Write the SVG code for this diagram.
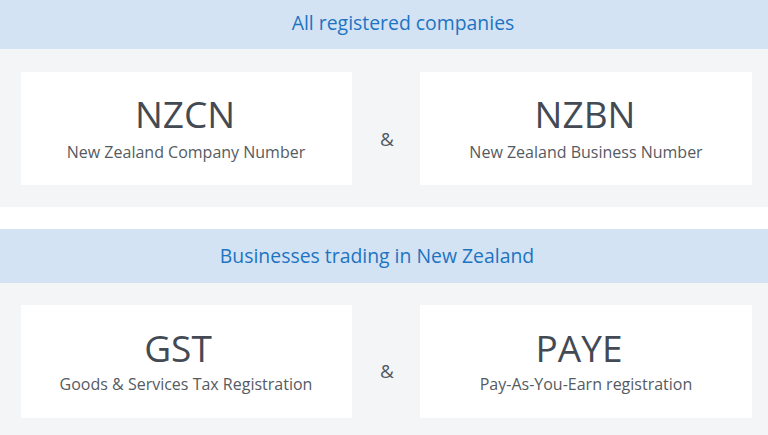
<svg xmlns="http://www.w3.org/2000/svg" width="768" height="435" viewBox="0 0 768 435">
<style>
.band{fill:#d3e3f3}
.panel{fill:#f4f5f7}
.box{fill:#ffffff}
.title{font-family:"Open Sans","Noto Sans",sans-serif;font-size:19.4px;fill:#1d74c2;text-anchor:middle}
.big{font-family:"Open Sans","Noto Sans",sans-serif;font-size:37px;fill:#434a53;text-anchor:middle}
.sub{font-family:"Open Sans","Noto Sans",sans-serif;font-size:16px;fill:#555b62;text-anchor:middle}
.amp{font-family:"Open Sans","Noto Sans",sans-serif;font-size:19px;fill:#555b62;text-anchor:middle}
</style>
<rect width="768" height="435" fill="#ffffff"/>
<g id="band1"><rect class="band" x="0" y="0" width="768" height="49"/><text class="title" x="403" y="30">All registered companies</text></g>
<rect class="panel" x="0" y="49" width="768" height="158"/>
<g id="nzcn"><rect class="box" x="21" y="72" width="331" height="113"/><text class="big" x="185" y="128">NZCN</text><text class="sub" x="186" y="158">New Zealand Company Number</text></g>
<g id="amp1"><text class="amp" x="387" y="146">&amp;</text></g>
<g id="nzbn"><rect class="box" x="420" y="72" width="332" height="113"/><text class="big" x="585" y="128">NZBN</text><text class="sub" x="586" y="158">New Zealand Business Number</text></g>
<g id="band2"><rect class="band" x="0" y="229" width="768" height="54"/><text class="title" x="377" y="263">Businesses trading in New Zealand</text></g>
<rect class="panel" x="0" y="283" width="768" height="152"/>
<g id="gst"><rect class="box" x="21" y="305" width="331" height="113"/><text class="big" x="178" y="362">GST</text><text class="sub" x="186" y="390">Goods &amp; Services Tax Registration</text></g>
<g id="amp2"><text class="amp" x="387" y="378">&amp;</text></g>
<g id="paye"><rect class="box" x="420" y="305" width="332" height="113"/><text class="big" x="579" y="362">PAYE</text><text class="sub" x="586" y="390">Pay-As-You-Earn registration</text></g>
<g id="connectors"></g>
</svg>
